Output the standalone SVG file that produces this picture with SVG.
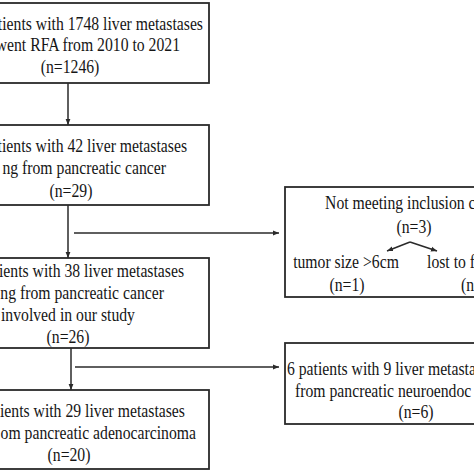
<svg xmlns="http://www.w3.org/2000/svg" width="474" height="474" viewBox="0 0 474 474">
<defs>
<style>
.box{fill:#fff;stroke:#2a2a2a;stroke-width:1.8}
.t{font-family:"Liberation Serif","Times New Roman",serif;font-size:18.5px;fill:#161616}
.m{text-anchor:middle}
.e{text-anchor:end}
.c{fill:none;stroke:#2a2a2a;stroke-width:1.5}
</style>
<marker id="ah" viewBox="0 0 10 10" refX="10" refY="5" markerWidth="6" markerHeight="6" orient="auto" markerUnits="userSpaceOnUse">
<path d="M0,1 L10,5 L0,9 z" fill="#2a2a2a"/>
</marker>
</defs>
<rect width="474" height="474" fill="#fff"/>
<g id="n1">
<rect class="box" x="-70" y="3" width="279" height="80"/>
<g transform="scale(0.85 1)">
<text class="t e" x="238.8" y="30">tients with 1748 liver metastases</text>
<text class="t e" x="211.8" y="51">went RFA from 2010 to 2021</text>
<text class="t m" x="82.4" y="73">(n=1246)</text>
</g>
</g>
<g id="n2">
<rect class="box" x="-70" y="125" width="279" height="80"/>
<g transform="scale(0.85 1)">
<text class="t e" x="220" y="152">tients with 42 liver metastases</text>
<text class="t e" x="195.3" y="174">ng from pancreatic cancer</text>
<text class="t m" x="83.5" y="197">(n=29)</text>
</g>
</g>
<g id="n3">
<rect class="box" x="-70" y="258" width="279" height="90"/>
<g transform="scale(0.85 1)">
<text class="t e" x="216.5" y="277">tients with 38 liver metastases</text>
<text class="t e" x="192.9" y="299">ng from pancreatic cancer</text>
<text class="t e" x="158.8" y="321">involved in our study</text>
<text class="t m" x="80" y="343">(n=26)</text>
</g>
</g>
<g id="n4">
<rect class="box" x="-70" y="390" width="279" height="79"/>
<g transform="scale(0.85 1)">
<text class="t e" x="217.6" y="417">ients with 29 liver metastases</text>
<text class="t e" x="230.6" y="439">om pancreatic adenocarcinoma</text>
<text class="t m" x="81.2" y="461">(n=20)</text>
</g>
</g>
<g id="n5">
<rect class="box" x="285" y="187" width="200" height="110"/>
<g transform="scale(0.85 1)">
<text class="t" x="382.4" y="209">Not meeting inclusion c</text>
<text class="t m" x="487.1" y="233">(n=3)</text>
<text class="t m" x="407.1" y="268">tumor size &gt;6cm</text>
<text class="t m" x="408.2" y="291">(n=1)</text>
<text class="t" x="502.4" y="268">lost to f</text>
<text class="t" x="542.4" y="291">(n</text>
</g>
</g>
<g id="n6">
<rect class="box" x="285" y="343" width="200" height="81"/>
<g transform="scale(0.85 1)">
<text class="t" x="337.6" y="375">6 patients with 9 liver metasta</text>
<text class="t" x="347.1" y="397">from pancreatic neuroendoc</text>
<text class="t m" x="489.4" y="418">(n=6)</text>
</g>
</g>
<g id="connectors">
<line class="c" x1="68" y1="83" x2="68" y2="125" marker-end="url(#ah)"/>
<line class="c" x1="68" y1="205" x2="68" y2="258" marker-end="url(#ah)"/>
<line class="c" x1="74" y1="233" x2="279" y2="233" marker-end="url(#ah)"/>
<line class="c" x1="71" y1="348" x2="71" y2="390" marker-end="url(#ah)"/>
<line class="c" x1="75" y1="367" x2="279" y2="367" marker-end="url(#ah)"/>
<line class="c" x1="410" y1="242" x2="387" y2="251" marker-end="url(#ah)"/>
<line class="c" x1="410" y1="242" x2="437" y2="251" marker-end="url(#ah)"/>
</g>
</svg>
